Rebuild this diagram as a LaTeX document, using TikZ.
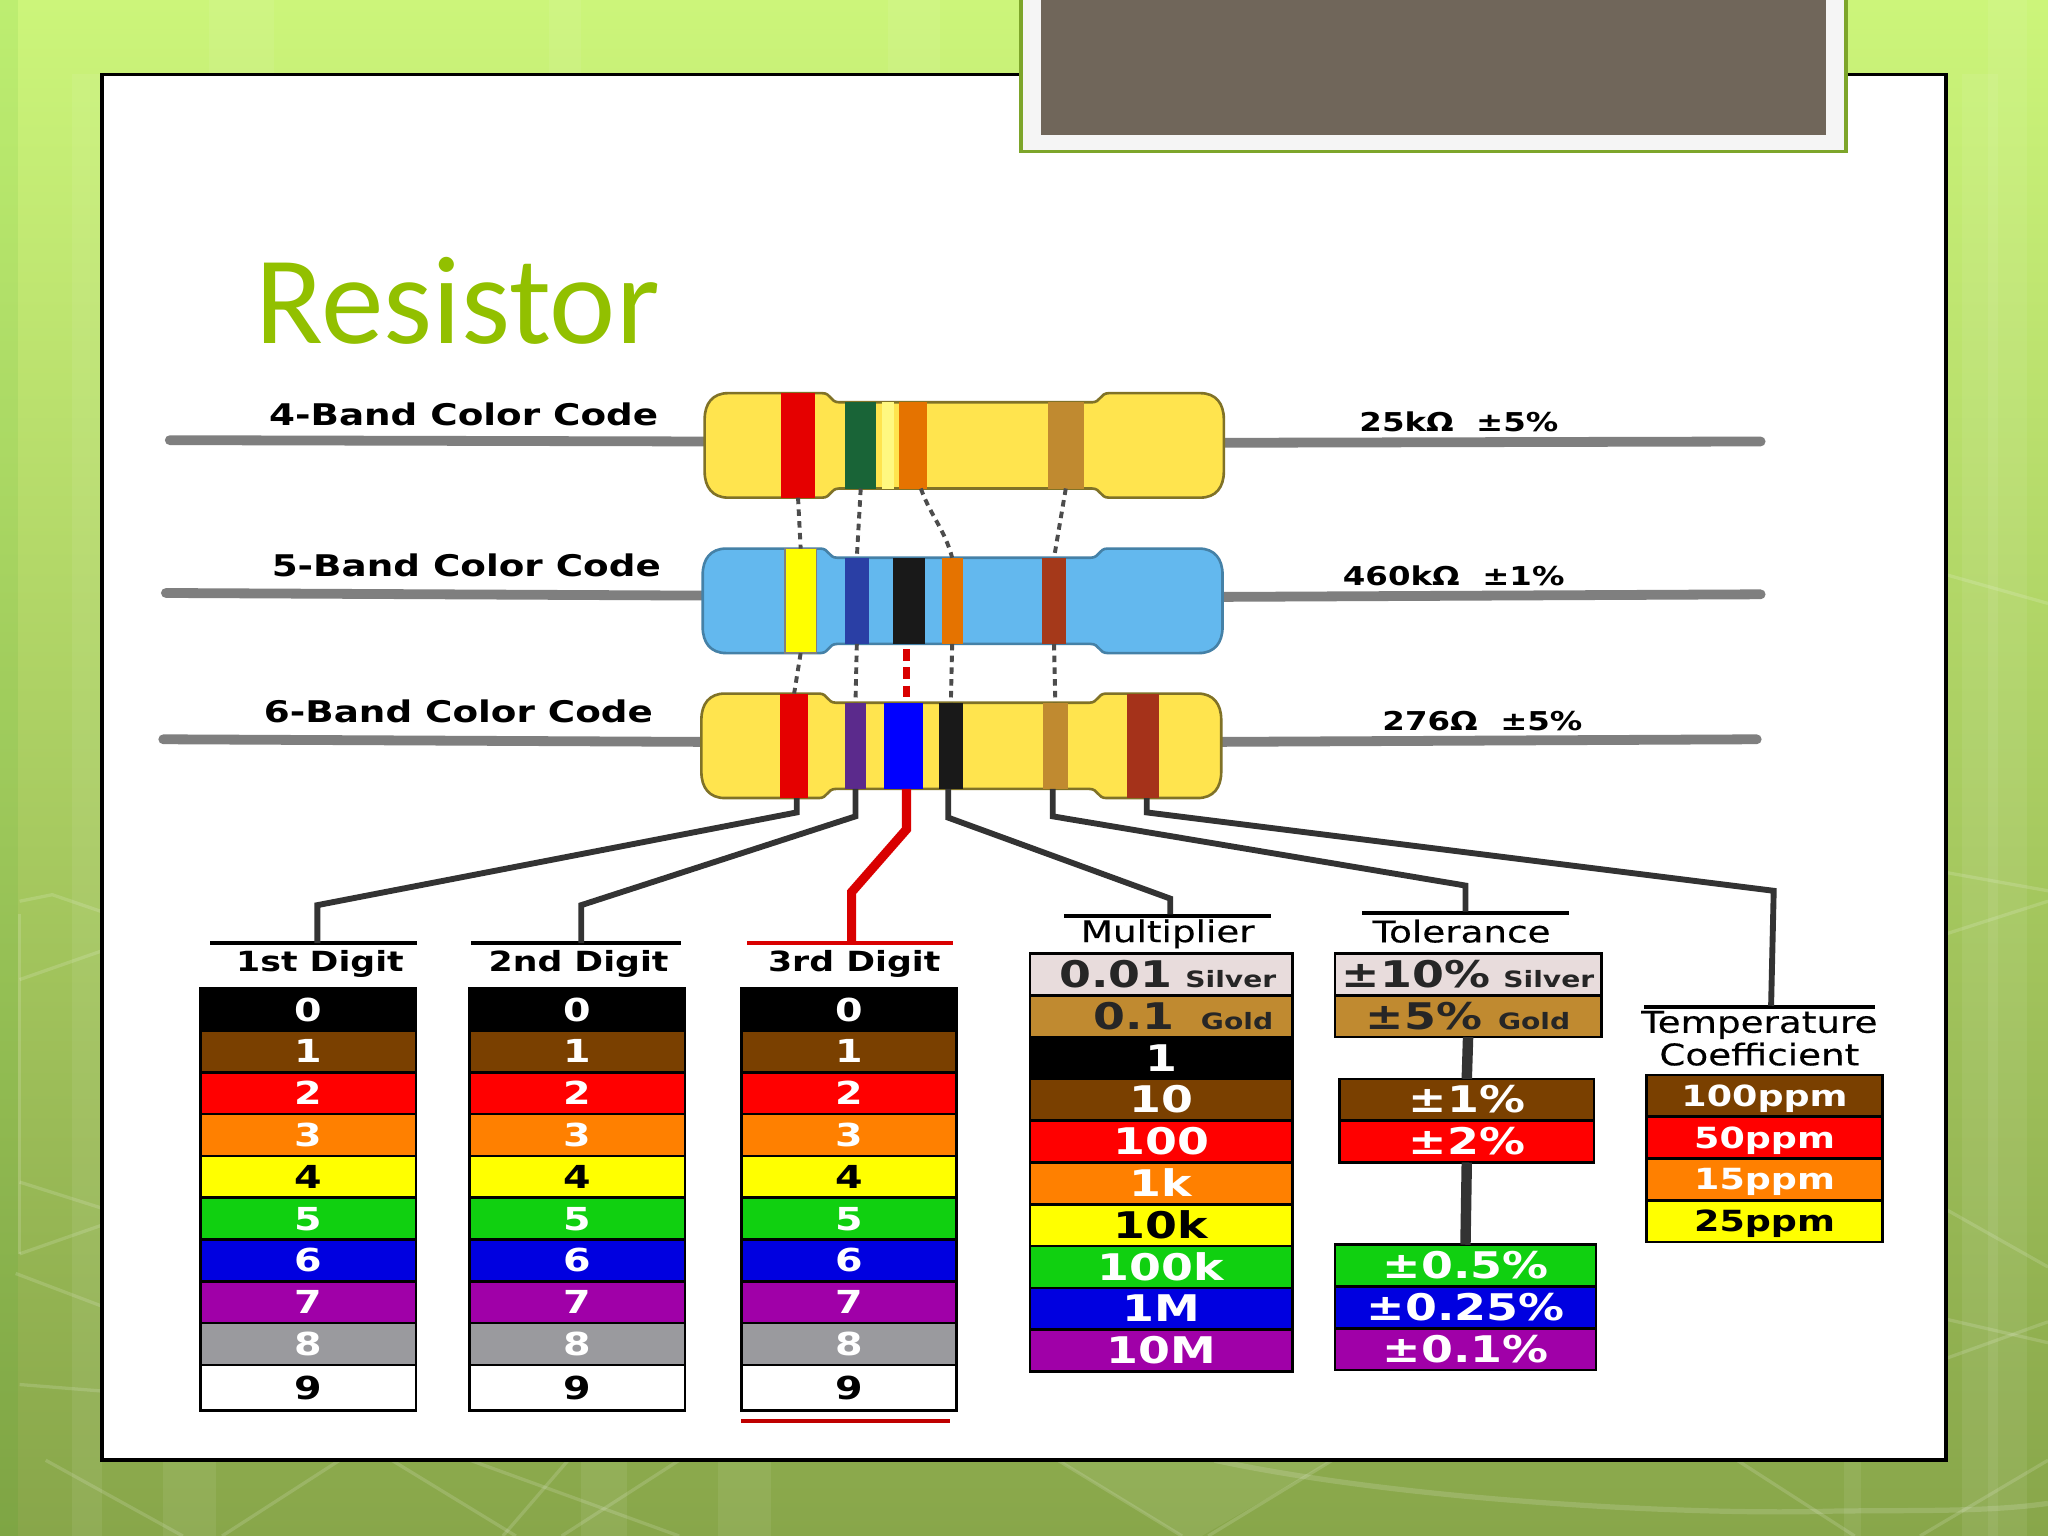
\documentclass[tikz,border=0pt]{standalone}
\usepackage{fontspec}
\usepackage{tikz}
\usetikzlibrary{positioning}
\setmainfont{DejaVu Sans}
\newfontfamily\titleface{Carlito}
\newfontfamily\wideface[FakeStretch=1.25]{DejaVu Sans}
\newfontfamily\heavyface[FakeStretch=1.25,FakeBold=0.4]{DejaVu Sans}
\definecolor{brownc}{HTML}{7A4000}
\definecolor{redc}{HTML}{FF0000}
\definecolor{orangec}{HTML}{FF8000}
\definecolor{yellowc}{HTML}{FFFF00}
\definecolor{greenc}{HTML}{10D010}
\definecolor{bluec}{HTML}{0000E0}
\definecolor{purplec}{HTML}{A000A8}
\definecolor{grayc}{HTML}{9A9A9E}
\definecolor{silverc}{HTML}{E8DCDC}
\definecolor{goldc}{HTML}{C08A30}
\definecolor{bodyyellow}{HTML}{FFE44E}
\definecolor{bodyblue}{HTML}{63B8EE}
\definecolor{leadgray}{HTML}{7F7F7F}
\definecolor{titlegreen}{HTML}{92C000}
\definecolor{frameline}{HTML}{7DA52A}
\newcommand{\resbody}[5]{
  \draw [#5] ({#1+18},#3) -- ({#1+90},#3) .. controls ({#1+97},#3) and ({#1+96},{#3+7}) .. ({#1+103},{#3+7})
    -- ({#2-101},{#3+7}) .. controls ({#2-94},{#3+7}) and ({#2-95},#3) .. ({#2-88},#3)
    -- ({#2-18},#3) .. controls ({#2-6},#3) and (#2,{#3+8}) .. (#2,{#3+20})
    -- (#2,{#4-20}) .. controls (#2,{#4-8}) and ({#2-6},#4) .. ({#2-18},#4)
    -- ({#2-88},#4) .. controls ({#2-95},#4) and ({#2-94},{#4-7}) .. ({#2-101},{#4-7})
    -- ({#1+103},{#4-7}) .. controls ({#1+96},{#4-7}) and ({#1+97},#4) .. ({#1+90},#4) -- ({#1+18},#4)
    .. controls ({#1+6},#4) and (#1,{#4-8}) .. (#1,{#4-20})
    -- (#1,{#3+20}) .. controls (#1,{#3+8}) and ({#1+6},#3) .. ({#1+18},#3) -- cycle;
}

\begin{document}
\begin{tikzpicture}
    [
    x=0.1mm,y=-0.1mm,
    lead/.style={draw=leadgray,line width=.75mm,line cap=round},
    yellowbody/.style={draw=black!50!bodyyellow,fill=bodyyellow,line width=.2mm},
    bluebody/.style={draw=black!30!bodyblue,fill=bodyblue,line width=.2mm},
    band/.style={rectangle,inner sep=0pt,outer sep=0pt},
    colorcode/.style={inner sep=0pt,font=\wideface\bfseries\fontsize{6.5pt}{7pt}\selectfont},
    value/.style={inner sep=0pt,font=\wideface\bfseries\fontsize{5.65pt}{7pt}\selectfont},
    heading/.style={inner sep=0pt,font=\wideface\bfseries\fontsize{6.05pt}{7pt}\selectfont},
    plainheading/.style={inner sep=0pt,align=center,font=\heavyface\fontsize{6.5pt}{7.1pt}\selectfont},
    rulebar/.style={rectangle,inner sep=0pt,outer sep=0pt,minimum height=.3mm,fill=black},
    hop/.style={draw=black!70,dash pattern=on .5mm off .4mm,line width=.3mm},
    redhop/.style={draw=red!85!black,dash pattern=on .9mm off .5mm,line width=.5mm},
    wire/.style={draw=black!80,line width=.45mm},
    redwire/.style={draw=red!85!black,line width=.7mm},
    stem/.style={draw=black!80,line width=.8mm},
    cell/.style={rectangle,draw=black,line width=.2mm,inner sep=0pt,outer sep=0pt,
      minimum height=3.2mm,text depth=0mm},
    blackcell/.style={cell,fill=black,text=white},
    browncell/.style={cell,fill=brownc,text=white},
    redcell/.style={cell,fill=redc,text=white},
    orangecell/.style={cell,fill=orangec,text=white},
    yellowcell/.style={cell,fill=yellowc,text=black},
    greencell/.style={cell,fill=greenc,text=white},
    bluecell/.style={cell,fill=bluec,text=white},
    purplecell/.style={cell,fill=purplec,text=white},
    graycell/.style={cell,fill=grayc,text=white},
    whitecell/.style={cell,fill=white,text=black},
    silvercell/.style={cell,fill=silverc,text=black!85},
    goldcell/.style={cell,fill=goldc,text=black!85},
    digit/.style={minimum width=16.5mm,text height=1.75mm,font=\wideface\bfseries\fontsize{6.9pt}{8pt}\selectfont},
    multi/.style={minimum width=20.1mm,text height=2mm,font=\wideface\bfseries\fontsize{8pt}{9pt}\selectfont},
    tolone/.style={minimum width=20.4mm,text height=2mm,font=\wideface\bfseries\fontsize{8pt}{9pt}\selectfont},
    toltwo/.style={minimum width=19.5mm,text height=2mm,font=\wideface\bfseries\fontsize{8pt}{9pt}\selectfont},
    tolthree/.style={minimum width=20mm,text height=2mm,font=\wideface\bfseries\fontsize{8pt}{9pt}\selectfont},
    coeff/.style={minimum width=18.1mm,text height=1.6mm,font=\wideface\bfseries\fontsize{6.35pt}{7pt}\selectfont},
    faint/.style={draw=white,opacity=.15,line width=.25mm},
    streak/.style={fill=white,opacity=.07}
    ]
    \useasboundingbox (0,0) rectangle (1568,1176);
    \clip (0,0) rectangle (1568,1176);

    % slide background
    \fill [top color={rgb,255:red,204;green,245;blue,122}, bottom color={rgb,255:red,136;green,166;blue,74}] (0,0) rectangle (1568,1176);
    \fill [fill=green!60!black,opacity=.07] (0,0) rectangle (14,1176);
    \fill [streak] (1522,0) rectangle (1552,1176);
    \fill [streak] (160,0) rectangle (210,57);
    \fill [streak] (420,0) rectangle (445,57);
    \fill [streak] (680,0) rectangle (720,57);
    \fill [streak] (55,57) rectangle (78,1176);
    \fill [streak] (125,1118) rectangle (165,1176);
    \fill [streak] (445,1118) rectangle (480,1176);
    \fill [streak] (550,1118) rectangle (590,1176);
    \fill [streak] (1412,1118) rectangle (1425,1176);
    \fill [streak] (1502,57) rectangle (1530,1176);
    \fill [streak] (810,1118) -- (1020,1118) -- (920,1176) -- (905,1176) -- cycle;
    \draw [faint] (15,690) -- (40,685) -- (78,698);
    \draw [faint] (15,960) -- (15,700);
    \draw [faint] (15,750) -- (78,728);
    \draw [faint] (15,905) -- (78,925);
    \draw [faint] (15,960) -- (78,938);
    \draw [faint] (12,975) -- (78,1000);
    \draw [faint] (15,1060) -- (78,1065);
    \draw [faint] (35,1118) -- (140,1176);
    \draw [faint] (260,1118) -- (170,1176);
    \draw [faint] (300,1118) -- (395,1176);
    \draw [faint] (435,1118) -- (385,1176);
    \draw [faint] (360,1118) -- (520,1176);
    \draw [faint] (520,1118) -- (430,1176);
    \draw [faint] (810,1118) -- (905,1176);
    \draw [faint] (1020,1118) -- (925,1176);
    \draw [faint] (1330,1118) -- (1420,1176);
    \draw [faint] (1568,1118) -- (1470,1176);
    \draw [faint,line width=.4mm] (930,1118) .. controls (1080,1150) and (1300,1160) .. (1400,1157) .. controls (1460,1156) and (1520,1158) .. (1568,1151);
    \draw [faint] (1490,440) -- (1568,462);
    \draw [faint] (1490,668) -- (1568,682);
    \draw [faint] (1490,715) -- (1568,690);
    \draw [faint] (1490,926) -- (1568,970);
    \draw [faint] (1490,1010) -- (1568,1028);
    \draw [faint] (1490,1040) -- (1568,1012);

    % panel and title block
    \draw [fill=white,draw=black,line width=.28mm] (78,57) rectangle (1490,1118);
    \fill [fill=black!4] (782,0) rectangle (1413,116);
    \draw [draw=frameline,line width=.3mm] (782,0) -- (782,116) -- (1413,116) -- (1413,0);
    \fill [fill={rgb,255:red,112;green,102;blue,90}] (797,0) rectangle (1398,103);
    \node (title) at (195,263) [anchor=base west,inner sep=0pt,text=titlegreen,font=\titleface\fontsize{27.3pt}{30pt}\selectfont] {Resistor};

    % leads
    \draw [lead] (130,337) to (540,338);
    \draw [lead] (935,339) to (1348,338);
    \draw [lead] (127,454) to (538,456);
    \draw [lead] (935,457) to (1348,455);
    \draw [lead] (125,566) to (537,568);
    \draw [lead] (933,568) to (1345,566);

    % resistor bodies
    \resbody{539.5}{937}{301}{381}{yellowbody}
    \resbody{538}{936}{420}{500}{bluebody}
    \resbody{537}{935}{531}{611}{yellowbody}

    % bands
    \node (fa) at (611,341) [band,fill=red!90!black,minimum width=2.6mm,minimum height=8mm] {};
    \node (fb) at (659,341) [band,fill={rgb,255:red,25;green,100;blue,55},minimum width=2.4mm,minimum height=6.6mm] {};
    \node (fs) at (680,341) [band,fill=yellow!50!white,minimum width=.9mm,minimum height=6.6mm] {};
    \node (fc) at (699,341) [band,fill=orangec!90!black,minimum width=2.1mm,minimum height=6.6mm] {};
    \node (fd) at (816,341) [band,fill=goldc,minimum width=2.8mm,minimum height=6.6mm] {};

    \node (va) at (613,460) [band,fill=yellowc,draw=black!50,line width=.1mm,minimum width=2.4mm,minimum height=8mm] {};
    \node (vb) at (656,460) [band,fill={rgb,255:red,42;green,63;blue,165},minimum width=1.8mm,minimum height=6.6mm] {};
    \node (vc) at (696,460) [band,fill=black!90,minimum width=2.5mm,minimum height=6.6mm] {};
    \node (vd) at (729,460) [band,fill=orangec!90!black,minimum width=1.6mm,minimum height=6.6mm] {};
    \node (ve) at (807,460) [band,fill={rgb,255:red,165;green,57;blue,26},minimum width=1.8mm,minimum height=6.6mm] {};

    \node (sa) at (608,571) [band,fill=red!90!black,minimum width=2.1mm,minimum height=8mm] {};
    \node (sb) at (655,571) [band,fill={rgb,255:red,91;green,42;blue,140},minimum width=1.6mm,minimum height=6.6mm] {};
    \node (sc) at (692,571) [band,fill=blue,minimum width=3mm,minimum height=6.6mm] {};
    \node (sd) at (728,571) [band,fill=black!90,minimum width=1.8mm,minimum height=6.6mm] {};
    \node (se) at (808,571) [band,fill=goldc,minimum width=1.9mm,minimum height=6.6mm] {};
    \node (sf) at (875,571) [band,fill={rgb,255:red,165;green,50;blue,26},minimum width=2.4mm,minimum height=8mm] {};

    % labels beside the resistors
    \node (lfour) at (355,317) [colorcode] {4-Band Color Code};
    \node (lfive) at (357,433) [colorcode] {5-Band Color Code};
    \node (lsix) at (351,545) [colorcode] {6-Band Color Code};
    \node (rfour) at (1117,323) [value] {25kΩ\ \ ±5\%};
    \node (rfive) at (1113,441) [value] {460kΩ\ \ ±1\%};
    \node (rsix) at (1135,552) [value] {276Ω\ \ ±5\%};

    % free ends of the links
    \coordinate (fk) at (705,374);
    \coordinate (rda) at (694,497);
    \coordinate (rdb) at (694,535);
    \coordinate (wa) at (610,611);
    \coordinate (wc) at (694,604);
    \coordinate (wd) at (726,604);
    \coordinate (we) at (806,604);
    \coordinate (wf) at (878,611);

    % links between resistors
    \draw [hop] (fa.south) to (va.north);
    \draw [hop] (fb.south) to (vb.north);
    \draw [hop] (fk) to [out=-70,in=105] (vd.north);
    \draw [hop] (fd.south) to (ve.north);
    \draw [hop] (va.south) to (sa.north);
    \draw [hop] (vb.south) to (sb.north);
    \draw [redhop] (rda) to (rdb);
    \draw [hop] (vd.south) to (sd.north);
    \draw [hop] (ve.south) to (se.north);

    % heading rules
    \node (ha) at (240,722) [rulebar,minimum width=15.8mm] {};
    \node (hb) at (441,722) [rulebar,minimum width=16.1mm] {};
    \node (hc) at (651,722) [rulebar,minimum width=15.8mm,fill=red!85!black] {};
    \node (hd) at (894,701) [rulebar,minimum width=15.8mm] {};
    \node (he) at (1122,699) [rulebar,minimum width=15.8mm] {};
    \node (hf) at (1347,771) [rulebar,minimum width=17.7mm] {};
    \node (hg) at (647,1088) [rulebar,minimum width=16mm,fill=red!75!black] {};

    \node (ta) at (245,738) [heading] {1st Digit};
    \node (tb) at (443,738) [heading] {2nd Digit};
    \node (tc) at (654,738) [heading] {3rd Digit};
    \node (td) at (894,715) [plainheading] {Multiplier};
    \node (te) at (1119,713) [plainheading] {Tolerance};
    \node (tf) at (1347,795) [plainheading] {Temperature\\Coefficient};

    % links to the tables
    \draw [wire] (wa) -- (610,622) -- (243,693) -- (243,722);
    \draw [wire] (sb.south) -- (655,625) -- (445,693) -- (445,722);
    \draw [redwire] (wc) -- (694,635) -- (652,683) -- (652,722);
    \draw [wire] (wd) -- (726,626) -- (896,688) -- (896,700);
    \draw [wire] (we) -- (806,625) -- (1122,678) -- (1122,698);
    \draw [wire] (wf) -- (878,622) -- (1358,682) -- (1356,770);

    % digit columns
    \node (aa) at (236,773) [digit,blackcell] {0};
    \node (ab) [digit,browncell,below=0mm of aa] {1};
    \node (ac) [digit,redcell,below=0mm of ab] {2};
    \node (ad) [digit,orangecell,below=0mm of ac] {3};
    \node (ae) [digit,yellowcell,below=0mm of ad] {4};
    \node (af) [digit,greencell,below=0mm of ae] {5};
    \node (ag) [digit,bluecell,below=0mm of af] {6};
    \node (ah) [digit,purplecell,below=0mm of ag] {7};
    \node (ai) [digit,graycell,below=0mm of ah] {8};
    \node (aj) [digit,whitecell,minimum height=3.5mm,below=0mm of ai] {9};

    \node (ba) at (442,773) [digit,blackcell] {0};
    \node (bb) [digit,browncell,below=0mm of ba] {1};
    \node (bc) [digit,redcell,below=0mm of bb] {2};
    \node (bd) [digit,orangecell,below=0mm of bc] {3};
    \node (be) [digit,yellowcell,below=0mm of bd] {4};
    \node (bf) [digit,greencell,below=0mm of be] {5};
    \node (bg) [digit,bluecell,below=0mm of bf] {6};
    \node (bh) [digit,purplecell,below=0mm of bg] {7};
    \node (bi) [digit,graycell,below=0mm of bh] {8};
    \node (bj) [digit,whitecell,minimum height=3.5mm,below=0mm of bi] {9};

    \node (ca) at (650,773) [digit,blackcell] {0};
    \node (cb) [digit,browncell,below=0mm of ca] {1};
    \node (cc) [digit,redcell,below=0mm of cb] {2};
    \node (cd) [digit,orangecell,below=0mm of cc] {3};
    \node (ce) [digit,yellowcell,below=0mm of cd] {4};
    \node (cf) [digit,greencell,below=0mm of ce] {5};
    \node (cg) [digit,bluecell,below=0mm of cf] {6};
    \node (ch) [digit,purplecell,below=0mm of cg] {7};
    \node (ci) [digit,graycell,below=0mm of ch] {8};
    \node (cj) [digit,whitecell,minimum height=3.5mm,below=0mm of ci] {9};

    % multiplier column
    \node (ma) at (889,746) [multi,silvercell] {\hspace{1mm}0.01\hspace{1mm}{\fontsize{4.9pt}{5pt}\selectfont Silver}};
    \node (mb) [multi,goldcell,below=0mm of ma] {\hspace{3.4mm}0.1\hspace{2mm}{\fontsize{4.9pt}{5pt}\selectfont Gold}};
    \node (mc) [multi,blackcell,below=0mm of mb] {1};
    \node (md) [multi,browncell,below=0mm of mc] {10};
    \node (me) [multi,redcell,below=0mm of md] {100};
    \node (mf) [multi,orangecell,below=0mm of me] {1k};
    \node (mg) [multi,yellowcell,below=0mm of mf] {10k};
    \node (mh) [multi,greencell,below=0mm of mg] {100k};
    \node (mi) [multi,bluecell,below=0mm of mh] {1M};
    \node (mj) [multi,purplecell,below=0mm of mi] {10M};

    % tolerance column
    \node (oa) at (1124,746) [tolone,silvercell] {±10\%\hspace{1mm}{\fontsize{4.9pt}{5pt}\selectfont Silver}};
    \node (ob) [tolone,goldcell,below=0mm of oa] {±5\%\hspace{1.2mm}{\fontsize{4.9pt}{5pt}\selectfont Gold}};
    \node (oc) at (1123,842) [toltwo,browncell] {±1\%\hspace{1mm}};
    \node (od) [toltwo,redcell,below=0mm of oc] {±2\%\hspace{1mm}};
    \node (oe) at (1122,969) [tolthree,greencell] {±0.5\%\hspace{1mm}};
    \node (of) [tolthree,bluecell,below=0mm of oe] {±0.25\%\hspace{1mm}};
    \node (og) [tolthree,purplecell,below=0mm of of] {±0.1\%\hspace{1mm}};
    \draw [stem] (ob.south) to (oc.north);
    \draw [stem] (od.south) to (oe.north);

    % temperature column
    \node (pa) at (1351,839) [coeff,browncell] {100ppm};
    \node (pb) [coeff,redcell,below=0mm of pa] {50ppm};
    \node (pc) [coeff,orangecell,below=0mm of pb] {15ppm};
    \node (pd) [coeff,yellowcell,below=0mm of pc] {25ppm};
\end{tikzpicture}
\end{document}
